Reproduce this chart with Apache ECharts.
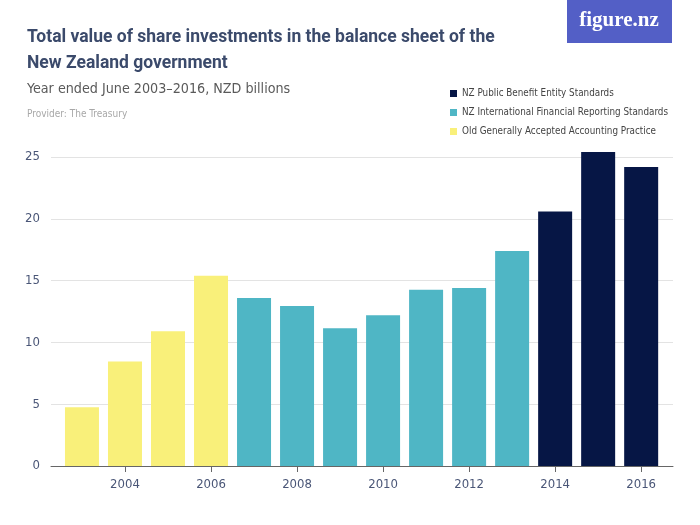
<!DOCTYPE html>
<html>
<head>
<meta charset="utf-8">
<script src="https://cdn.jsdelivr.net/npm/echarts@6/dist/echarts.min.js"></script>
<style>
  html, body { margin: 0; padding: 0; background: #fff; }
  #chart { width: 700px; height: 525px; }
</style>
</head>
<body>
<div id="chart"></div>
<script>
// values, NZD billions
const oldGaapYears = [2003, 2004, 2005, 2006];
const oldGaapValues = [4.75, 8.45, 10.9, 15.4];
const ifrsYears = [2007, 2008, 2009, 2010, 2011, 2012, 2013];
const ifrsValues = [13.6, 12.95, 11.15, 12.2, 14.25, 14.4, 17.4];
const pbeYears = [2014, 2015, 2016];
const pbeValues = [20.6, 25.4, 24.2];
const xTickLabels = [2004, 2006, 2008, 2010, 2012, 2014, 2016];

const font = "'DejaVu Sans Condensed', 'Roboto', sans-serif";
const pair = (years, vals) => years.map((y, i) => [y, vals[i]]);

const chart = echarts.init(document.getElementById("chart"));

const barBase = {
  type: "bar",
  barWidth: 34,
  barGap: "-100%",
  clip: false,
};

const option = {
  animation: false,
  textStyle: { fontFamily: font },
  title: [
    {
      text: "Total value of share investments in the balance sheet of the\nNew Zealand government",
      left: 22,
      top: 20,
      textStyle: {
        fontFamily: "Roboto, sans-serif",
        fontSize: 17.5,
        fontWeight: "bold",
        color: "#3b4a6b",
        lineHeight: 26,
      },
    },
    {
      text: "Year ended June 2003–2016, NZD billions",
      left: 22,
      top: 77,
      textStyle: { fontFamily: font, fontSize: 14.2, fontWeight: "normal", color: "#5a5a5a" },
    },
    {
      text: "Provider: The Treasury",
      left: 22,
      top: 104,
      textStyle: { fontFamily: font, fontSize: 10, fontWeight: "normal", color: "#a8a8a8" },
    },
  ],
  graphic: [
    {
      type: "rect",
      left: 567,
      top: 0,
      shape: { width: 105, height: 43 },
      style: { fill: "#535fc6" },
    },
    {
      type: "text",
      x: 619,
      y: 21,
      style: {
        text: "figure.nz",
        fill: "#fff",
        font: "bold 21px 'Liberation Serif', serif",
        align: "center",
        verticalAlign: "middle",
      },
    },
  ],
  legend: {
    orient: "vertical",
    left: 445,
    top: 83,
    itemWidth: 7,
    itemHeight: 7,
    itemGap: 8,
    icon: "rect",
    textStyle: { fontFamily: font, fontSize: 9.8, color: "#444", lineHeight: 11 },
    data: [
      "NZ Public Benefit Entity Standards",
      "NZ International Financial Reporting Standards",
      "Old Generally Accepted Accounting Practice",
    ],
  },
  grid: { left: 51, right: 27, top: 157, bottom: 59 },
  xAxis: {
    type: "value",
    min: 2002.28,
    max: 2016.74,
    splitLine: { show: false },
    axisLine: { show: true, lineStyle: { color: "#666" } },
    axisTick: {
      show: true,
      length: 6,
      lineStyle: { color: "#666" },
      customValues: xTickLabels,
    },
    axisLabel: {
      color: "#4a5677",
      fontSize: 13,
      margin: 12,
      customValues: xTickLabels,
      formatter: (v) => String(v),
    },
  },
  yAxis: {
    type: "value",
    min: 0,
    max: 25,
    interval: 5,
    axisLine: { show: false },
    axisTick: { show: false },
    axisLabel: { color: "#4a5677", fontSize: 13, margin: 11 },
    splitLine: { lineStyle: { color: "#e3e3e3", width: 1 } },
  },
  series: [
    {
      ...barBase,
      name: "NZ Public Benefit Entity Standards",
      itemStyle: { color: "#061645" },
      data: pair(pbeYears, pbeValues),
    },
    {
      ...barBase,
      name: "NZ International Financial Reporting Standards",
      itemStyle: { color: "#4fb6c5" },
      data: pair(ifrsYears, ifrsValues),
    },
    {
      ...barBase,
      name: "Old Generally Accepted Accounting Practice",
      itemStyle: { color: "#f9f07a" },
      data: pair(oldGaapYears, oldGaapValues),
    },
  ],
};

chart.setOption(option);
</script>
</body>
</html>
